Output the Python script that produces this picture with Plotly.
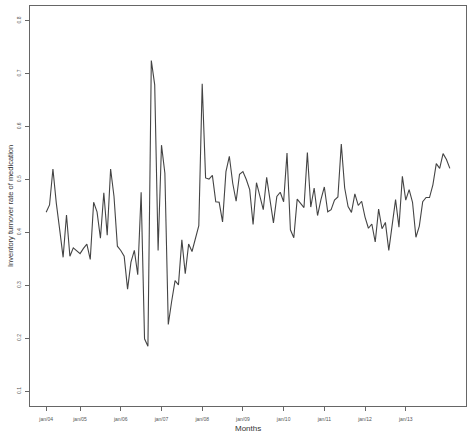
import plotly.graph_objects as go

# monthly inventory turnover rate
TURNOVER = [
    0.438, 0.452, 0.520, 0.455, 0.405, 0.353, 0.433, 0.355, 0.371, 0.366,
    0.360, 0.370, 0.378, 0.349, 0.457, 0.439, 0.389, 0.475, 0.395, 0.520,
    0.468, 0.374, 0.366, 0.355, 0.293, 0.344, 0.366, 0.320, 0.476, 0.199,
    0.185, 0.725, 0.679, 0.366, 0.565, 0.512, 0.226, 0.270, 0.309, 0.301,
    0.386, 0.322, 0.378, 0.364, 0.391, 0.413, 0.681, 0.503, 0.501, 0.508,
    0.458, 0.457, 0.420, 0.515, 0.544, 0.493, 0.459, 0.510, 0.515, 0.500,
    0.481, 0.415, 0.494, 0.468, 0.443, 0.504, 0.462, 0.418, 0.468, 0.476,
    0.458, 0.550, 0.405, 0.390, 0.463, 0.456, 0.447, 0.551, 0.448, 0.484,
    0.432, 0.462, 0.486, 0.439, 0.443, 0.461, 0.467, 0.567, 0.484, 0.449,
    0.438, 0.473, 0.451, 0.459, 0.429, 0.408, 0.416, 0.382, 0.444, 0.407,
    0.419, 0.366, 0.417, 0.462, 0.410, 0.506, 0.461, 0.481, 0.457, 0.391,
    0.412, 0.458, 0.466, 0.466, 0.490, 0.530, 0.521, 0.549, 0.538, 0.521,
]
MONTH = list(range(len(TURNOVER)))

TICK_POS = [0, 10, 22, 34, 46, 58, 70, 82, 94, 106]
TICK_TEXT = ["jan/04", "jan/05", "jan/06", "jan/07", "jan/08",
             "jan/09", "jan/10", "jan/11", "jan/12", "jan/13"]
Y_TICKS = [0.1, 0.2, 0.3, 0.4, 0.5, 0.6, 0.7, 0.8]

FONT = "Liberation Sans, Arial, sans-serif"
AXIS_COLOR = "#666666"
LINE_COLOR = "#444444"
TITLE_FONT = dict(size=8, color="#333333", family=FONT)

fig = go.Figure()
fig.add_trace(
    go.Scatter(
        x=MONTH,
        y=TURNOVER,
        mode="lines",
        line=dict(color=LINE_COLOR, width=1.1),
        hoverinfo="skip",
    )
)

# R-style axes: 4% padding, ticks outside, full box
n = len(TURNOVER) - 1
common = dict(
    ticks="outside",
    ticklen=4,
    tickcolor=AXIS_COLOR,
    tickfont=dict(size=5, color="#555555", family=FONT),
    showline=True,
    mirror=True,
    linecolor=AXIS_COLOR,
    linewidth=1,
    showgrid=False,
    zeroline=False,
    automargin=False,
)
fig.update_xaxes(
    range=[-0.04 * n, n * 1.04],
    tickvals=TICK_POS,
    ticktext=TICK_TEXT,
    ticklabelstandoff=4,
    **common,
)
fig.update_yaxes(
    range=[0.1 - 0.028, 0.8 + 0.028],
    tickvals=Y_TICKS,
    tickformat=".1f",
    tickangle=-90,
    ticklabelstandoff=2,
    **common,
)

# axis titles placed like R's mtext lines
fig.add_annotation(
    text="Months", xref="paper", yref="paper", x=0.5, y=0,
    xanchor="center", yanchor="middle", yshift=-22,
    showarrow=False, font=TITLE_FONT,
)
fig.add_annotation(
    text="Inventory turnover rate of medication", xref="paper", yref="paper",
    x=0, y=0.5, xanchor="center", yanchor="middle", xshift=-20,
    textangle=-90, showarrow=False, font=dict(size=7.5, color="#333333", family=FONT),
)

fig.update_layout(
    width=474,
    height=436,
    margin=dict(l=30, r=8, t=6, b=30),
    showlegend=False,
    plot_bgcolor="white",
    paper_bgcolor="white",
)

# drop the page's default body margin so the figure sits at the window corner
fig.write_html(
    "out.html",
    config={"displayModeBar": False},
    post_script="document.body.style.margin = '0';",
)
